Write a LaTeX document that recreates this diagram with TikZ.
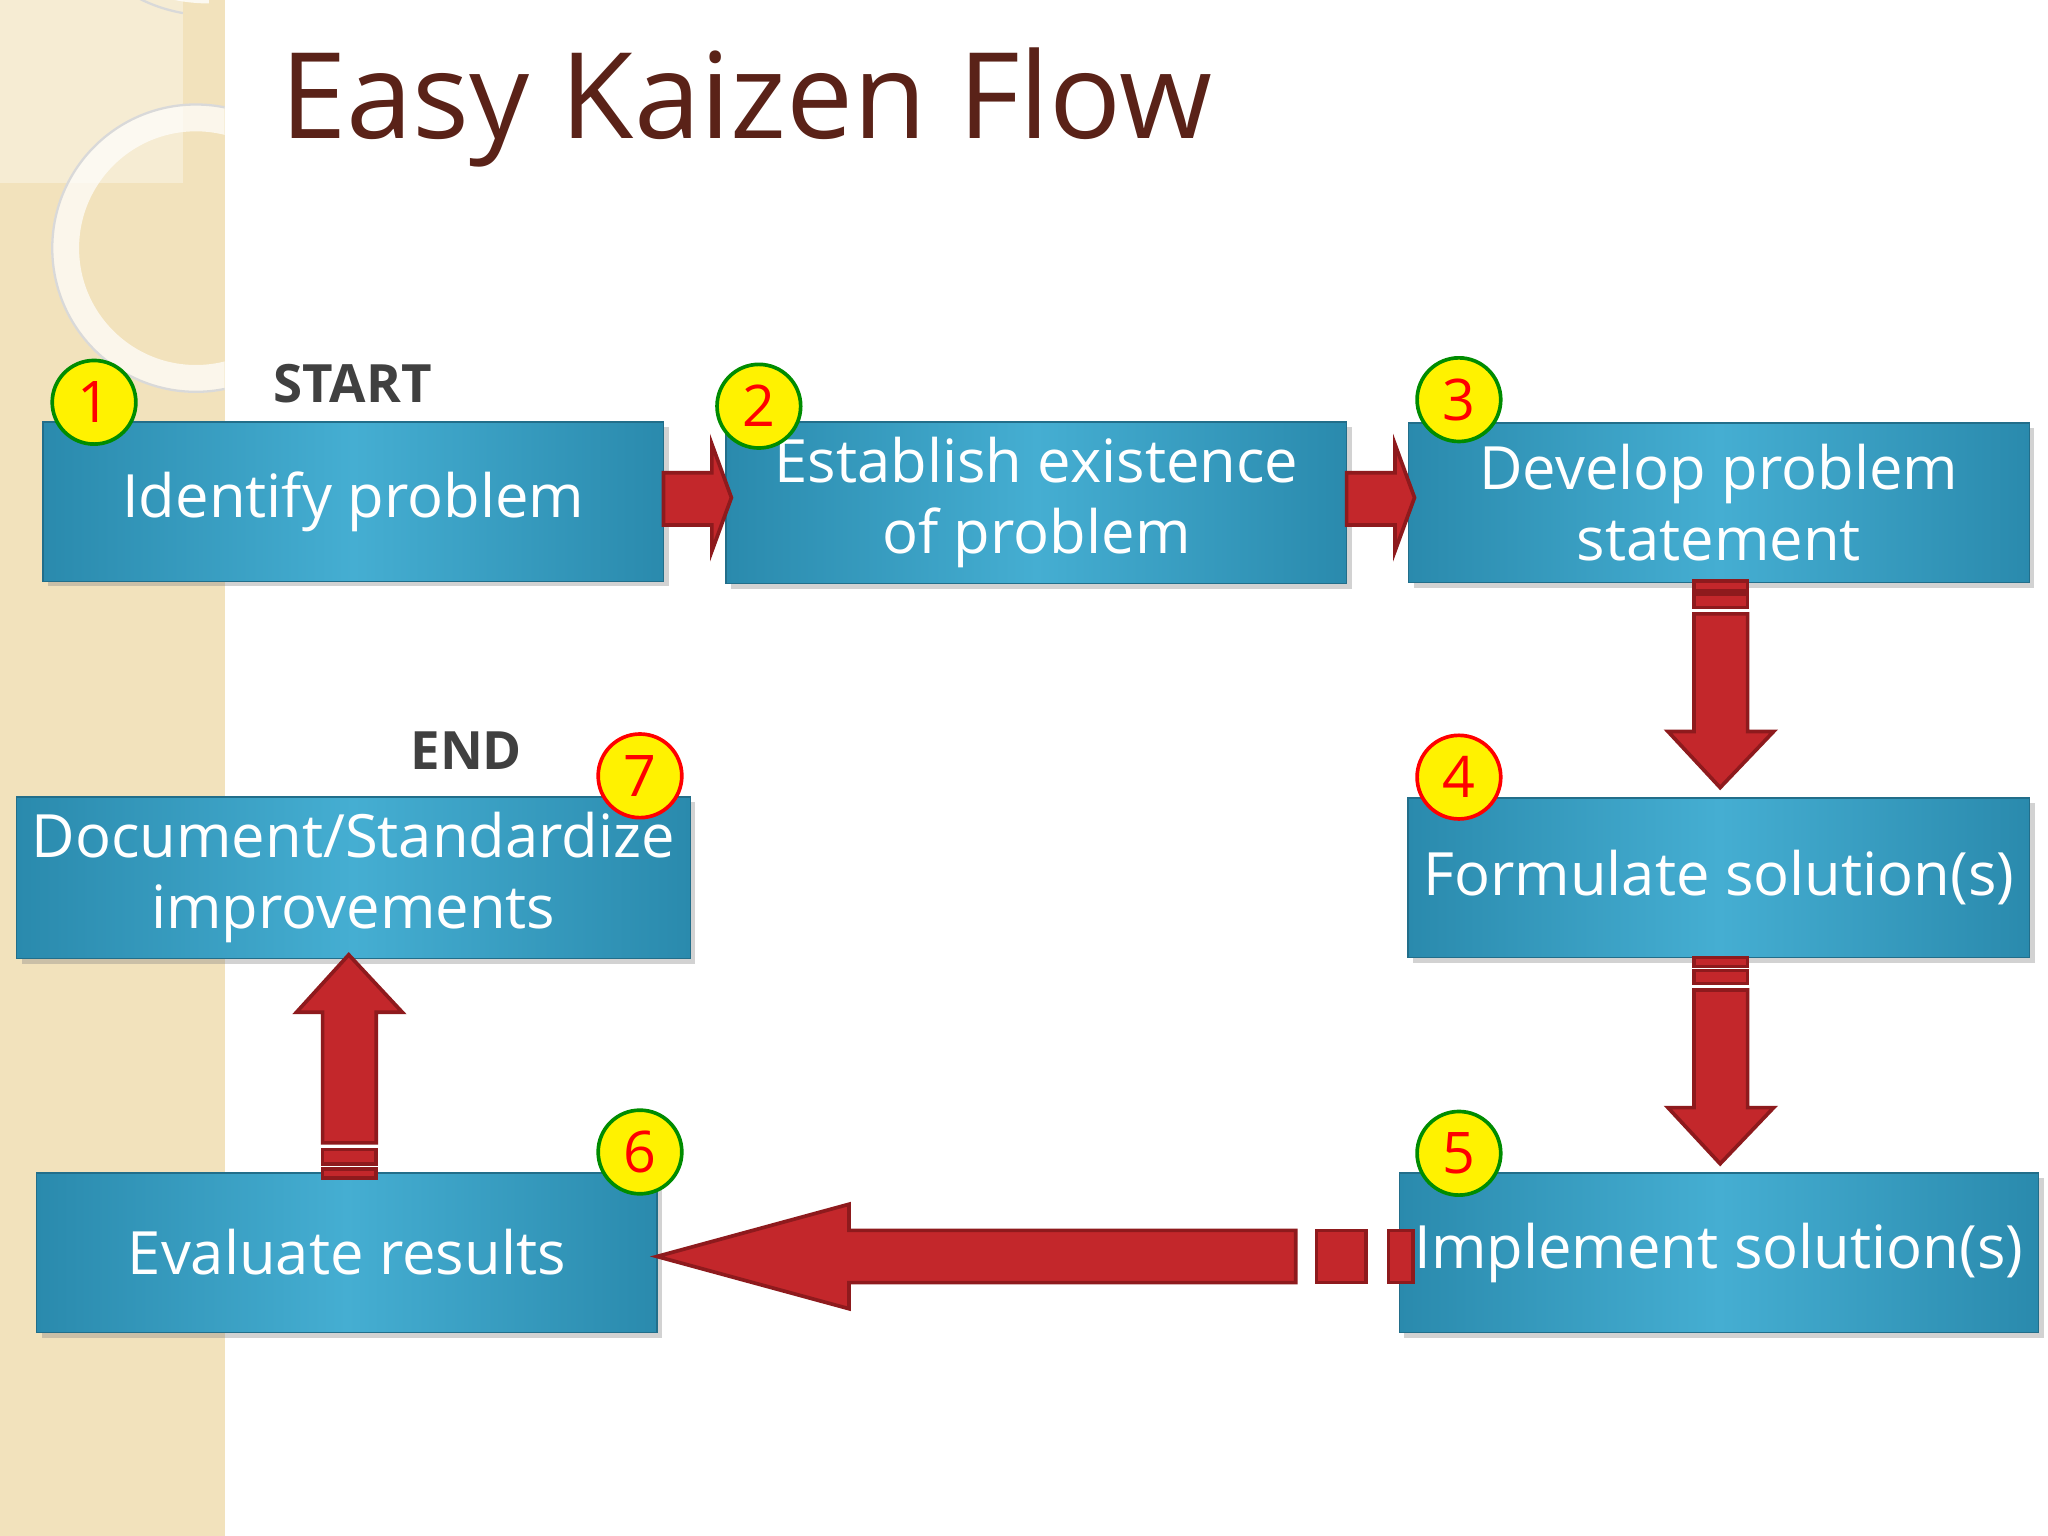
\documentclass[tikz,border=0pt]{standalone}
\usepackage{fontspec}
\setmainfont{Open Sans}
\usetikzlibrary{shadows}
\definecolor{teal1}{HTML}{2A8AAD}
\definecolor{teal2}{HTML}{45AED2}
\definecolor{arr}{HTML}{C3272B}
\definecolor{arrd}{HTML}{8E1A1D}
\definecolor{beige}{HTML}{F2E2BC}
\definecolor{title}{HTML}{5A2218}
\tikzset{
 box/.style={rectangle,minimum width=4.75cm,minimum height=1.22cm,left color=teal1,right color=teal1,middle color=teal2,
   draw=teal1!80!black,line width=0.3pt,text=white,align=center,font=\fontsize{13}{15.5}\selectfont,
   drop shadow={shadow xshift=0.04cm,shadow yshift=-0.04cm,opacity=0.35}},
 num/.style={circle,minimum size=0.64cm,inner sep=0pt,fill=yellow,line width=0.8pt,text=red,font=\fontsize{12.5}{14}\selectfont},
 ng/.style={num,draw=green!55!black},
 nr/.style={num,draw=red},
 blk/.style={fill=arr,draw=arrd,line width=0.8pt,line join=miter},
 lab/.style={font=\bfseries\fontsize{11.5}{13}\selectfont,text=black!75}
}
\begin{document}
\begin{tikzpicture}[x=0.01cm,y=-0.01cm]
\useasboundingbox (0,0) rectangle (1568,1176);
\fill[white] (0,0) rectangle (1568,1176);
\fill[beige] (0,0) rectangle (172,1176);
\begin{scope}
\clip (0,0) rectangle (172,1176);
\fill[white,opacity=0.35] (0,0) rectangle (140,140);
\draw[white,line width=1.5pt,opacity=0.8] (160,0) arc[start angle=90,end angle=250,radius=130];
\draw[white,line width=6pt,opacity=0.7] (150,190) circle[radius=100];
\draw[black!15,line width=0.5pt] (150,190) circle[radius=110];
\draw[black!15,line width=0.5pt] (140,10) arc[start angle=100,end angle=240,radius=120];
\end{scope}
\node[anchor=west,text=title,font=\fontsize{26}{30}\selectfont] (t) at (202,82) {Easy Kaizen Flow};

\node[box] (b1) at (270.5,384) {Identify problem};
\node[box] (b2) at (793.5,385) {Establish existence\\of problem};
\node[box] (b3) at (1316,385) {Develop problem\\statement};
\node[box] (b4) at (1316,672) {Formulate solution(s)};
\node[box] (b7) at (270.5,672) {Document/Standardize\\improvements};
\node[box] (b6) at (265.5,959) {Evaluate results};
\node[box] (b5) at (1316,959) {Implement solution(s)};

\node[lab] (s) at (270,294) {START};
\node[lab] (e) at (357,575) {END};

% right arrows
\draw[blk] (508,362) -- (545,362) -- (545,340) -- (560,381) -- (545,422) -- (545,402) -- (508,402) -- cycle;
\draw[blk] (1031,362) -- (1068,362) -- (1068,340) -- (1083,381) -- (1068,422) -- (1068,402) -- (1031,402) -- cycle;
% down arrows
\foreach \y in {445,733}{
 \draw[blk] (1297,\y) rectangle (1338,\y+7);
 \draw[blk] (1297,\y+10) rectangle (1338,\y+20);
 \draw[blk] (1297,\y+25) -- (1338,\y+25) -- (1338,\y+115) -- (1358,\y+115) -- (1317,\y+158) -- (1277,\y+115) -- (1297,\y+115) -- cycle;
}
% up arrow
\draw[blk] (247,895) rectangle (288,902);
\draw[blk] (247,880) rectangle (288,891);
\draw[blk] (247,875) -- (288,875) -- (288,775) -- (308,775) -- (267,731) -- (227,775) -- (247,775) -- cycle;
% left arrow
\draw[blk] (1063,942) rectangle (1082,982);
\draw[blk] (1008,942) rectangle (1046,982);
\draw[blk] (992,942) -- (650,942) -- (650,922) -- (503,962) -- (650,1002) -- (650,982) -- (992,982) -- cycle;

\node[ng] (n1) at (72,308) {1};
\node[ng] (n2) at (581,311) {2};
\node[ng] (n3) at (1117,306) {3};
\node[nr] (n4) at (1117,595) {4};
\node[ng] (n5) at (1117,883) {5};
\node[ng] (n6) at (490,882) {6};
\node[nr] (n7) at (490,594) {7};
\end{tikzpicture}
\end{document}
